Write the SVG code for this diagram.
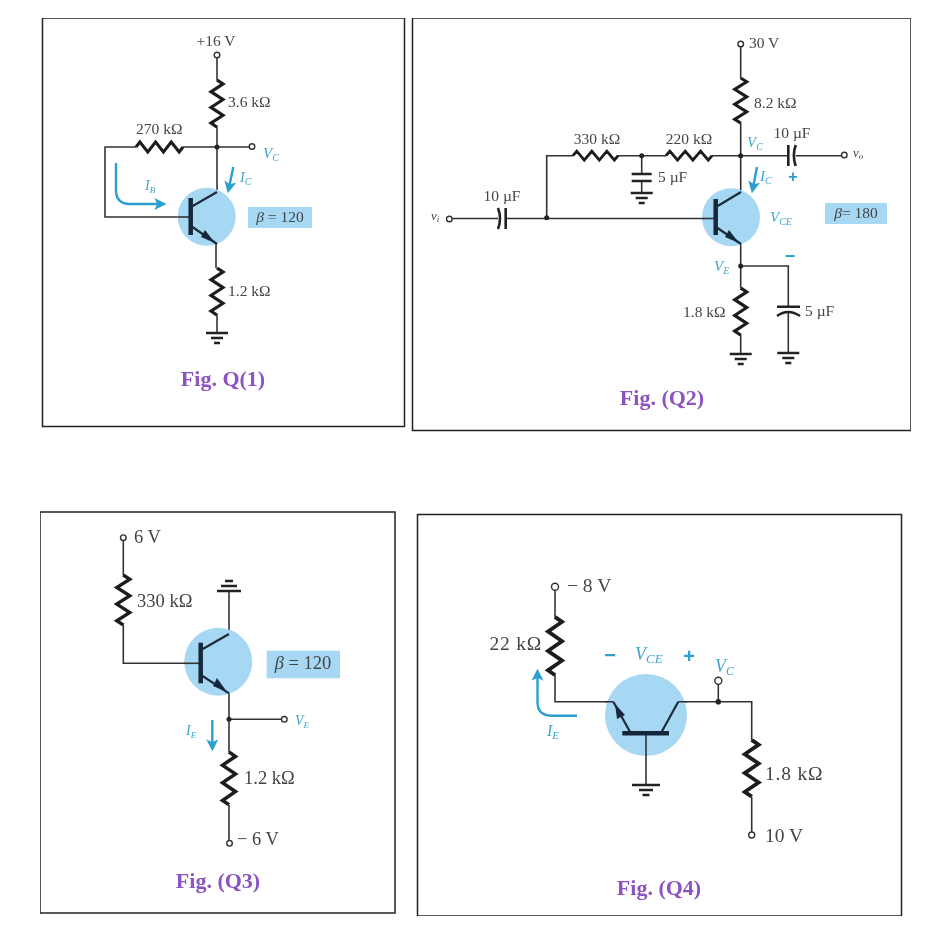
<svg xmlns="http://www.w3.org/2000/svg" width="926" height="934" viewBox="0 0 926 934">
<style>
.box{fill:none;stroke:#222;stroke-width:1.5}
.w{fill:none;stroke:#333;stroke-width:1.6}
.q{fill:none;stroke:#1c2c3a;stroke-width:2.200}
.r{fill:none;stroke:#1c1c1c;stroke-width:3;stroke-linejoin:miter}
.bar{stroke:#12283c;stroke-width:4.500;fill:none}
.hl{fill:#a6d8f3}
.t{font-family:"Liberation Serif","Times New Roman",serif;fill:#444}
.a{font-size:15.500px}.b{font-size:18.500px}.c{font-size:19.500px}
.i{font-family:"Liberation Serif","Times New Roman",serif;font-style:italic;fill:#3fa6c9}
.it{font-style:italic}
.fig{font-family:"Liberation Serif","Times New Roman",serif;font-weight:bold;font-size:22px;fill:#8c52c2;text-anchor:middle}
.m{text-anchor:middle}
.dot{fill:#222}
.term{fill:#fff;stroke:#333;stroke-width:1.400}
.gnd{fill:none;stroke:#222;stroke-width:2.600}
.ba{fill:none;stroke:#2a9fd0;stroke-width:2.400}
.plus{font-family:"Liberation Sans",Arial,sans-serif;font-weight:bold;fill:#2a9fd0;text-anchor:middle}
</style>
<defs>
<filter id="soft" x="0" y="0" width="100%" height="100%"><feGaussianBlur stdDeviation="0.450"/></filter>
<path id="res" d="M0 0L5 4L-5 12L5 20L-5 28L5 36L-5 44L0 48"/>
<g id="gr"><path d="M-11 0H11M-6 5H6M-3 10H3" class="gnd"/></g>
<marker id="ah" markerWidth="5" markerHeight="5" refX="3.6" refY="2.5" orient="auto"><path d="M0 0L5 2.500L0 5L1.200 2.500Z" fill="#2a9fd0"/></marker>
</defs>
<rect width="926" height="934" fill="#fff"/>
<g filter="url(#soft)">
<rect class="box" x="42.500" y="18" width="362" height="408.500"/>
<rect class="box" x="412.500" y="18" width="498.500" height="412.500"/>
<rect class="box" x="40" y="512" width="355" height="401"/>
<rect class="box" x="417.500" y="514.500" width="484" height="401.500"/>

<g id="connectors">
<path class="w" d="M217 58V80M217 127V192M217 147H249M183 147H217M136 147H105V217H191M216 244V268M217 315V333"/>
<path class="w" d="M740.700 47V78M740.700 123V192M712 155.700H788.300M795.700 155.700H841.500M666 155.700H618M573 155.700H546.700V218.500M641.700 155.700V174M641.700 181V193M452 218.500H498M505.700 218.500H715M740.700 244V288M740.700 335V354M740.700 266H788.300V306.700M788.300 313V353"/>
<path class="w" d="M123.300 540.500V575M123.300 625V663.300H201M229 591V634M229 693V752M229 719.300H281.500M229 805V840.500"/>
<path class="w" d="M555 589.500V617M555 675V701.700H613.300M678.300 701.700H751.700V740M718.300 683.500V701.700M646 733V785M751.700 797V832.200"/>
</g>

<g id="fig1">
<circle class="hl" cx="206.700" cy="216.700" r="29"/>
<rect class="hl" x="248" y="207" width="64" height="21"/>
<path class="w" d="M178 217H191"/>
<path class="bar" d="M190.700 198V235"/>
<path class="q" d="M191 207L217 192M191 226L217 244"/>
<path d="M215 243L201 237L205 230Z" fill="#12283c"/>
<use href="#res" class="r" transform="translate(217 80) scale(1.200 .98)"/>
<use href="#res" class="r" transform="translate(136 147) rotate(-90) scale(1 .98)"/>
<use href="#res" class="r" transform="translate(217 268) scale(1.200 .98)"/>
<use href="#gr" x="217" y="333"/>
<circle class="term" cx="217" cy="55" r="2.800"/>
<circle class="term" cx="252" cy="146.500" r="2.800"/>
<circle class="dot" cx="217" cy="147" r="2.500"/>
<path class="ba" d="M116 163V190Q116 204 130 204H163" marker-end="url(#ah)"/>
<path class="ba" d="M233.300 167L228.500 190" marker-end="url(#ah)"/>
<text class="t a m" x="216" y="46">+16 V</text>
<text class="t a" x="228" y="107">3.6 kΩ</text>
<text class="t a" x="136" y="134">270 kΩ</text>
<text class="t a" x="228" y="296">1.2 kΩ</text>
<text class="t a m" x="280" y="222"><tspan class="it">β</tspan> = 120</text>
<text class="i" x="263" y="158" font-size="15">V<tspan font-size="10" dy="3">C</tspan></text>
<text class="i" x="240" y="182" font-size="14">I<tspan font-size="10" dy="3">C</tspan></text>
<text class="i" x="145" y="190" font-size="14">I<tspan font-size="9" dy="3">B</tspan></text>
<text class="fig" x="223" y="386">Fig. Q(1)</text>
</g>

<g id="fig2">
<circle class="hl" cx="731" cy="217.300" r="29"/>
<rect class="hl" x="825" y="203" width="62" height="21"/>
<path class="w" d="M702 218.500H715"/>
<path class="bar" d="M715.700 199V235"/>
<path class="q" d="M716 207L741 192M716 227L741 244"/>
<path d="M739 243L725 237L729 230Z" fill="#12283c"/>
<use href="#res" class="r" transform="translate(740.700 78) scale(1.200 .94)"/>
<use href="#res" class="r" transform="translate(740.700 288) scale(1.200 .98)"/>
<use href="#res" class="r" transform="translate(573 155.700) rotate(-90) scale(.9 .94)"/>
<use href="#res" class="r" transform="translate(666 155.700) rotate(-90) scale(.9 .96)"/>
<path class="gnd" d="M631.700 174H651.700M631.700 181H651.700M777 306.700H800M777 316Q788 308 800 316M788.300 145V166M795.700 145Q792 155.700 795.700 166M505.700 208V229M498 208Q502 218.500 498 229"/>
<use href="#gr" x="641.700" y="193"/>
<use href="#gr" x="740.700" y="354"/>
<use href="#gr" x="788.300" y="353"/>
<circle class="term" cx="449.300" cy="219" r="2.800"/>
<circle class="term" cx="740.700" cy="44" r="2.800"/>
<circle class="term" cx="844.300" cy="155" r="2.800"/>
<circle class="dot" cx="740.700" cy="155.700" r="2.500"/>
<circle class="dot" cx="641.700" cy="155.700" r="2.500"/>
<circle class="dot" cx="546.700" cy="217.700" r="2.500"/>
<circle class="dot" cx="740.700" cy="266" r="2.500"/>
<path class="ba" d="M757 167L752.500 190" marker-end="url(#ah)"/>
<text class="t a" x="749" y="48">30 V</text>
<text class="t a" x="754" y="108">8.2 kΩ</text>
<text class="t a m" x="597" y="144">330 kΩ</text>
<text class="t a m" x="689" y="144">220 kΩ</text>
<text class="t a m" x="792" y="138">10 µF</text>
<text class="t a" x="658" y="182">5 µF</text>
<text class="t a m" x="502" y="201">10 µF</text>
<text class="t a" x="683" y="317">1.8 kΩ</text>
<text class="t a" x="805" y="316">5 µF</text>
<text class="t m" x="856" y="218" font-size="15.500"><tspan class="it">β</tspan>= 180</text>
<text class="t" x="431" y="220" font-size="13" font-style="italic">v<tspan font-size="9" dy="2">i</tspan></text>
<text class="t" x="853" y="157" font-size="13" font-style="italic">v<tspan font-size="9" dy="2">o</tspan></text>
<text class="i" x="747" y="147" font-size="15">V<tspan font-size="10" dy="3">C</tspan></text>
<text class="i" x="760" y="181" font-size="15">I<tspan font-size="10" dy="3">C</tspan></text>
<text class="i" x="770" y="222" font-size="15">V<tspan font-size="10" dy="3">CE</tspan></text>
<text class="i" x="714" y="271" font-size="15">V<tspan font-size="10" dy="3">E</tspan></text>
<text class="plus" x="793" y="182" font-size="16">+</text>
<text class="plus" x="790" y="262" font-size="18">−</text>
<text class="fig" x="662" y="405">Fig. (Q2)</text>
</g>

<g id="fig3">
<circle class="hl" cx="218.300" cy="661.700" r="34"/>
<rect class="hl" x="266.700" y="650.700" width="73.300" height="27.600"/>
<path class="w" d="M184 663.300H201"/>
<path class="bar" d="M200.700 642.700V683.300"/>
<path class="q" d="M201 650L229 634M201 675L229 693.300"/>
<path d="M227 692L213 686L217 678Z" fill="#12283c"/>
<use href="#res" class="r" transform="translate(123.300 575) scale(1.300 1.040)"/>
<use href="#res" class="r" transform="translate(229 752) scale(1.300 1.100)"/>
<path class="gnd" d="M217 591H241M221 586H237M225 581H233"/>
<circle class="term" cx="123.300" cy="537.700" r="2.800"/>
<circle class="term" cx="284.300" cy="719.300" r="2.800"/>
<circle class="term" cx="229.500" cy="843.300" r="2.800"/>
<circle class="dot" cx="229" cy="719.300" r="2.500"/>
<path class="ba" d="M212.300 720V748" marker-end="url(#ah)"/>
<text class="t b" x="134" y="543">6 V</text>
<text class="t b" x="137" y="607">330 kΩ</text>
<text class="t b" x="244" y="784">1.2 kΩ</text>
<text class="t b" x="237" y="845">− 6 V</text>
<text class="t b m" x="303" y="669"><tspan class="it">β</tspan> = 120</text>
<text class="i" x="295" y="725" font-size="14">V<tspan font-size="9" dy="3">E</tspan></text>
<text class="i" x="186" y="735" font-size="14">I<tspan font-size="9" dy="3">E</tspan></text>
<text class="fig" x="218" y="888">Fig. (Q3)</text>
</g>

<g id="fig4">
<circle class="hl" cx="646" cy="715" r="41"/>
<path class="w" d="M605 701.700H613.300M678.300 701.700H687M646 733V756"/>
<path class="bar" d="M622.300 733.300H669"/>
<path class="q" d="M613.300 701.700L630 731.700M661.700 731.700L678.300 701.700"/>
<path d="M615 704L625 715L617 719Z" fill="#12283c"/>
<use href="#res" class="r" transform="translate(555 617) scale(1.400 1.210)"/>
<use href="#res" class="r" transform="translate(751.700 740) scale(1.400 1.180)"/>
<path class="gnd" d="M632 785H660M639 790H653M642.500 795H649.500"/>
<circle class="term" cx="555" cy="586.700" r="3.500"/>
<circle class="term" cx="718.300" cy="680.700" r="3.500"/>
<circle class="term" cx="751.700" cy="835" r="3"/>
<circle class="dot" cx="718.300" cy="701.700" r="2.800"/>
<path class="ba" d="M577 715.700H552Q537.500 715.700 537.500 702V672" marker-end="url(#ah)"/>
<text class="t c" x="567" y="592">− 8 V</text>
<text class="t c" x="542" y="650" text-anchor="end" letter-spacing=".8">22 kΩ</text>
<text class="t c" x="765" y="780" letter-spacing=".8">1.8 kΩ</text>
<text class="t c" x="765" y="842">10 V</text>
<text class="i" x="635" y="660" font-size="18">V<tspan font-size="13" dy="3">CE</tspan></text>
<text class="i" x="715" y="672" font-size="18">V<tspan font-size="12" dy="3">C</tspan></text>
<text class="i" x="547" y="736" font-size="16">I<tspan font-size="11" dy="3">E</tspan></text>
<text class="plus" x="610" y="662" font-size="20">−</text>
<text class="plus" x="689" y="663" font-size="20">+</text>
<text class="fig" x="659" y="895">Fig. (Q4)</text>
</g>
</g>
</svg>
